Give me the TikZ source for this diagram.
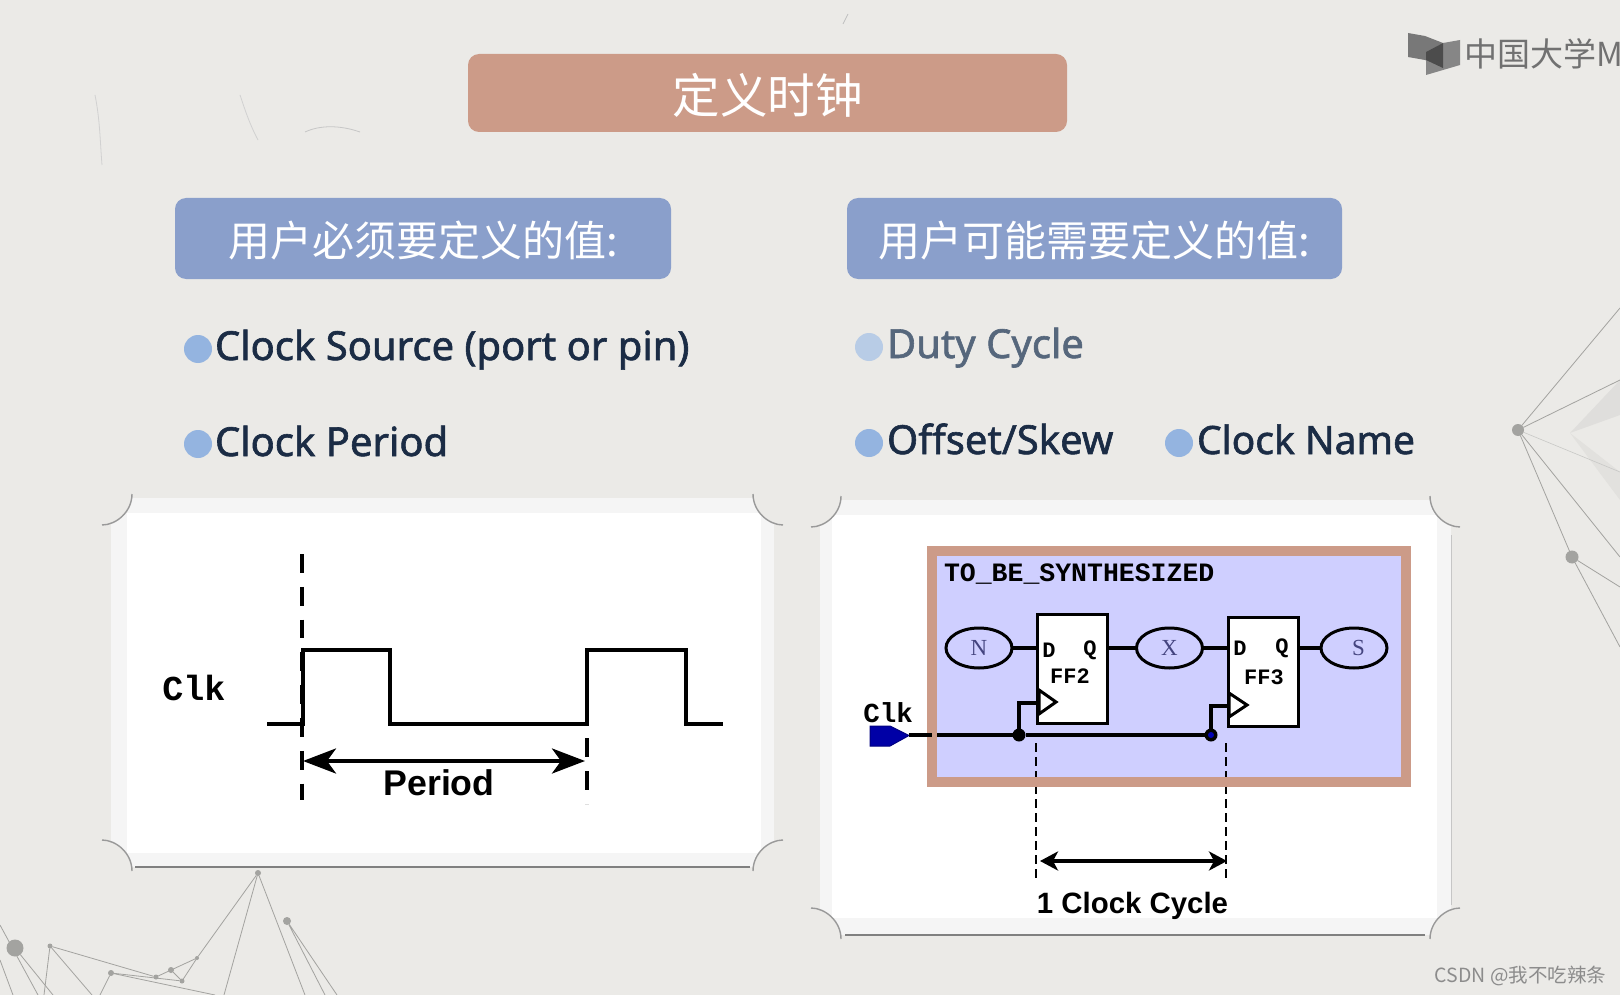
\documentclass[tikz,border=0pt]{standalone}
\usepackage{fontspec}
\usetikzlibrary{arrows.meta,shapes.geometric}
\newfontfamily\cnfont{Noto Sans CJK SC}
\newfontfamily\latfont[FakeBold=1.5]{Noto Sans}
\newfontfamily\tagfont{Liberation Mono}
\newfontfamily\capfont{Liberation Sans}
\newfontfamily\serfont{Liberation Serif}
\definecolor{paper}{HTML}{EBEAE7}
\definecolor{brick}{HTML}{CC9B88}
\definecolor{slate}{HTML}{8A9FCB}
\definecolor{lilac}{HTML}{CFCFFF}
\definecolor{ink}{HTML}{1B2C45}
\definecolor{inkfade}{HTML}{56677C}
\definecolor{dotblue}{HTML}{94B4E0}
\definecolor{dotfade}{HTML}{B8CCE6}
\definecolor{logogray}{HTML}{717171}
\definecolor{netgray}{HTML}{A3A3A0}
\definecolor{siglabel}{HTML}{44447F}
\newcommand{\fs}[2]{\fontsize{#1}{#1}\selectfont #2}
\newcommand{\cardcorner}[3]{
  \begin{scope}[shift={#1},xscale=#2,yscale=#3]
    \fill[paper] (-9,-4) -- (21,-4) .. controls (21,14) and (5,27) .. (-9,27) -- cycle;
    \draw[gray!80,line width=1.4pt] (21,-4) .. controls (21,14) and (5,27) .. (-9,27);
  \end{scope}}
\begin{document}
\begin{tikzpicture}[x=1pt,y=-1pt,
    every node/.style={inner sep=0pt,outer sep=0pt},
    banner/.style={rounded corners=11pt,fill=#1,text=white,text depth=0pt},
    bullet/.style={circle,fill=dotblue,minimum size=28pt},
    item/.style={anchor=base west,text=ink,font=\latfont},
    ffbox/.style={rectangle,draw=black,line width=3pt,fill=white,minimum width=70pt},
    signal/.style={ellipse,draw=black,line width=3pt,fill=lilac,minimum width=66pt,minimum height=40pt,text=siglabel,font=\serfont},
    wire/.style={draw=black,line width=3.4pt},
    tick/.style={draw=black,line width=1.6pt,dash pattern=on 9pt off 5pt},
    net/.style={netgray,line width=0.8pt},
    hub/.style={circle,fill=netgray,minimum size=#1}]
  \useasboundingbox (0,0) rectangle (1620,995);
  \fill[paper] (0,0) rectangle (1620,995);

  \node[hub=12pt] (netA) at (1518,430) {};
  \node[hub=13pt] (netB) at (1572,557) {};
  \fill[paper!95!black] (1570,433) -- (1620,380) -- (1620,415) -- cycle;
  \fill[paper!96!black] (1570,433) -- (1620,472) -- (1620,500) -- cycle;
  \foreach \tip in {308,380,557} \draw[net] (netA) to (1620,\tip);
  \draw[netgray!60,line width=0.6pt] (netA) to (1620,472);
  \draw[net] (netA) to (netB);
  \foreach \tip in {587,647} \draw[net] (netB) to (1620,\tip);

  \node[hub=17pt] (netC) at (15,948) {};
  \node[hub=5pt] (netD) at (50,946) {};
  \node[hub=6pt] (netE) at (111,973) {};
  \node[hub=5pt] (netF) at (156,977) {};
  \node[hub=6pt] (netG) at (171,970) {};
  \node[hub=5pt] (netH) at (182,981) {};
  \node[hub=4pt] (netI) at (197,958) {};
  \node[hub=6pt] (netJ) at (258,873) {};
  \node[hub=8pt] (netK) at (287,921) {};
  \draw[net] (netJ) to (netI) (netI) to (netF) (netI) to (netH) (netF) to (netG) (netG) to (netH);
  \draw[net] (netD) to (netF) (netE) to (netH);
  \draw[net] (netJ) to (224,995) (netJ) to (305,995);
  \draw[net] (netK) to (325,995) (netK) to (337,995);
  \draw[net] (netD) to (44,995) (netD) to (92,995);
  \draw[net] (netE) to (100,995) (netE) to (215,995);
  \draw[net] (netC) to (53,995) (0,925) to (38,995) (0,960) to (13,995);

  \draw[black!22,line width=0.8pt] (305,132) .. controls (320,125) and (340,125) .. (360,132);
  \draw[black!18,line width=0.8pt] (95,95) .. controls (100,120) and (100,140) .. (102,165);
  \draw[black!18,line width=0.8pt] (240,95) .. controls (245,110) and (250,125) .. (258,140);
  \draw[black!25,line width=0.8pt] (848,14) -- (843,24);

  \fill[logogray!95] (1408,33) -- (1425,36) -- (1443,43) -- (1443,68) -- (1425,60) -- (1408,57) -- cycle;
  \fill[logogray!85] (1460,40) -- (1443,43) -- (1426,52) -- (1426,75) -- (1460,65) -- cycle;
  \fill[black!70] (1426,52) -- (1443,43) -- (1443,68) -- (1426,60) -- cycle;
  \node[anchor=west,text=logogray,font=\cnfont] (logo) at (1464,54) {\fs{33}{中国大学M}};

  \node[banner=brick,text height=42pt,minimum width=599pt,minimum height=78pt,font=\cnfont] (title) at (767.5,93) {\fs{47.5}{定义时钟}};
  \node[banner=slate,text height=36pt,minimum width=496pt,minimum height=81pt,font=\cnfont] (must) at (423,238.5) {\fs{42}{用户必须要定义的值:}};
  \node[banner=slate,text height=36pt,minimum width=495pt,minimum height=81pt,font=\cnfont] (may) at (1094.5,238.5) {\fs{42}{用户可能需要定义的值:}};

  \node[bullet] (b1) at (198,349) {};
  \node[item] (source) at (215,360) {\fs{40}{Clock Source (port or pin)}};
  \node[bullet] (b2) at (198,444) {};
  \node[item] (period) at (215,456) {\fs{40}{Clock Period}};
  \node[bullet,fill=dotfade] (b3) at (869,347) {};
  \node[item,text=inkfade] (duty) at (887,358) {\fs{40}{Duty Cycle}};
  \node[bullet] (b4) at (869,443) {};
  \node[item] (skew) at (887,454) {\fs{40}{Offset/Skew}};
  \node[bullet] (b5) at (1179,443) {};
  \node[item] (name) at (1197,454) {\fs{39}{Clock Name}};

  \fill[black!4] (111,498) rectangle (774,867);
  \fill[white] (127,513) rectangle (761,853);
  \draw[gray,line width=1.6pt] (135,867) -- (750,867);
  \cardcorner{(111,498)}{1}{1}
  \cardcorner{(774,498)}{-1}{1}
  \cardcorner{(111,867)}{1}{-1}
  \cardcorner{(774,867)}{-1}{-1}

  \fill[black!4] (820,500) rectangle (1451,935);
  \fill[white] (832,515) rectangle (1437,918);
  \draw[gray!45,line width=1pt] (1451,535) -- (1451,905);
  \draw[gray,line width=1.6pt] (845,935) -- (1425,935);
  \cardcorner{(820,500)}{1}{1}
  \cardcorner{(1451,500)}{-1}{1}
  \cardcorner{(820,935)}{1}{-1}
  \cardcorner{(1451,935)}{-1}{-1}

  \node[font=\tagfont\bfseries] (clkA) at (194,688) {\fs{35}{Clk}};
  \coordinate (w0) at (267,724);
  \coordinate (w1) at (303,650);
  \coordinate (w2) at (390,724);
  \coordinate (w3) at (587,650);
  \coordinate (w4) at (686,724);
  \coordinate (w5) at (723,724);
  \draw[line width=4pt] (w0) -| (w1) -| (w2) -| (w3) -| (w4) -- (w5);
  \coordinate (m0) at (302,554);
  \coordinate (m1) at (302,800);
  \coordinate (m2) at (587,738);
  \coordinate (m3) at (587,804);
  \draw[line width=3.6pt,dash pattern=on 18.7pt off 14.1pt] (m0) to (m1);
  \draw[line width=3.6pt,dash pattern=on 18.5pt off 14.5pt] (m2) to (m3);
  \coordinate (p0) at (303,761);
  \coordinate (p1) at (585,761);
  \draw[line width=4pt,{Stealth[length=33pt,width=25pt,inset=9pt]}-{Stealth[length=33pt,width=25pt,inset=9pt]}] (p0) to (p1);
  \node[font=\capfont\bfseries] (per) at (439,783) {\fs{35.7}{Period}};

  \node[fill=lilac,minimum width=464pt,minimum height=221pt] (inner) at (1169,666.5) {};
  \coordinate (g0) at (1036,743);
  \coordinate (g1) at (1036,878);
  \coordinate (g2) at (1226,743);
  \coordinate (g3) at (1226,878);
  \draw[tick] (g0) to (g1);
  \draw[tick] (g2) to (g3);
  \node[draw=brick,line width=10pt,minimum width=474pt,minimum height=231pt] (synth) at (1169,666.5) {};
  \node[anchor=base west,font=\tagfont\bfseries] (synthname) at (944,581.5) {\fs{26.5}{TO\_BE\_SYNTHESIZED}};

  \coordinate (clkin) at (909,735.5);
  \fill[draw=black!50!blue,fill=blue!65!black,line width=1pt] (870,726) -- (890,726) -- (clkin) -- (890,746) -- (870,746) -- cycle;
  \node[font=\tagfont\bfseries] (clkB) at (888,713) {\fs{27.5}{Clk}};
  \node[circle,fill=black,minimum size=13pt] (j1) at (1019,735) {};
  \node[circle,fill=black,minimum size=13pt] (j2) at (1211,735) {};
  \fill[blue!70!black] (j2) circle (3pt);
  \draw[wire] (clkin |- j1) to (synth.west |- j1);
  \draw[wire] (inner.west |- j1) to (j1);
  \draw[wire] (j1) to (j2);

  \node[signal] (N) at (979,648) {\fs{23}{N}};
  \node[signal] (X) at (1169.5,648) {\fs{23}{X}};
  \node[signal] (S) at (1354,648) {\hspace{9pt}\fs{23}{S}};
  \node[ffbox,minimum height=109pt] (FFa) at (1072.5,668.5) {};
  \node[ffbox,minimum height=109pt] (FFb) at (1263.5,671.5) {};
  \draw[wire] (N) to (FFa.west |- N);
  \draw[wire] (FFa.east |- X) to (X);
  \draw[wire] (X) to (FFb.west |- X);
  \draw[wire] (FFb.east |- S) to (S);

  \coordinate (ca) at (1039,703);
  \coordinate (cb) at (1229,706);
  \draw[wire] (j1) |- (ca);
  \draw[wire] (j2) |- (cb);
  \fill[white,draw=black,line width=3pt] (1039,690) -- (1056,702) -- (1039,714) -- cycle;
  \fill[white,draw=black,line width=3pt] (1229,693) -- (1247,705) -- (1229,717) -- cycle;

  \node[font=\tagfont\bfseries] (da) at (1049,650) {\fs{22}{D}};
  \node[font=\tagfont\bfseries] (qa) at (1090,650) {\fs{22}{Q}};
  \node[font=\tagfont\bfseries] (ffna) at (1070,676) {\fs{22}{FF2}};
  \node[font=\tagfont\bfseries] (db) at (1240,648) {\fs{22}{D}};
  \node[font=\tagfont\bfseries] (qb) at (1282,648) {\fs{22}{Q}};
  \node[font=\tagfont\bfseries] (ffnb) at (1264,677) {\fs{22}{FF3}};

  \coordinate (c0) at (1040,861);
  \coordinate (c1) at (1227,861);
  \draw[line width=3.6pt,{Stealth[length=18pt,width=19pt,inset=5pt]}-{Stealth[length=18pt,width=19pt,inset=5pt]}] (c0) to (c1);
  \node[font=\capfont\bfseries] (cyc) at (1132.5,906) {\fs{29.4}{1 Clock Cycle}};

  \node[anchor=east,text=black!45,font=\cnfont] (mark) at (1606,976) {\fs{19.5}{CSDN @我不吃辣条}};
\end{tikzpicture}
\end{document}
